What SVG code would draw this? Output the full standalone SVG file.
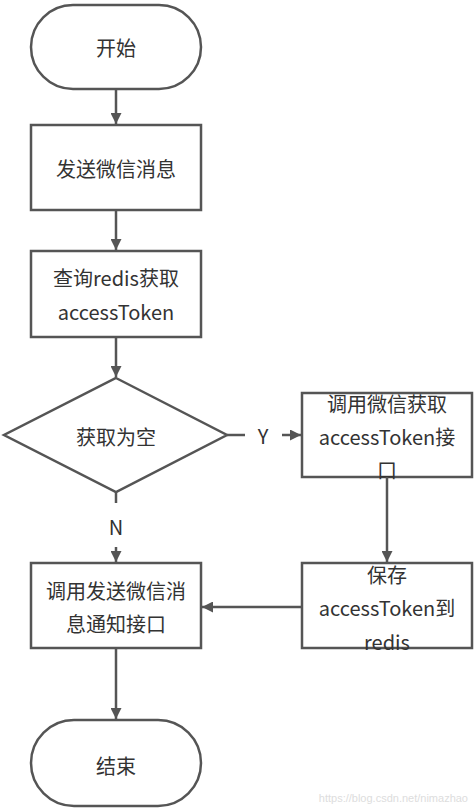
<svg xmlns="http://www.w3.org/2000/svg" width="474" height="811" viewBox="0 0 474 811">
<style>
.s{fill:#fff;stroke:#555;stroke-width:2.5}
.t{font-family:"Noto Sans CJK SC","Noto Sans",sans-serif;font-size:20px;fill:#333;text-anchor:middle;dominant-baseline:central}
.c{fill:none;stroke:#555;stroke-width:2.5}
</style>
<defs>
<marker id="a" viewBox="0 0 10 10" refX="10" refY="5" markerWidth="4.4" markerHeight="4.4" orient="auto" markerUnits="strokeWidth">
<path d="M0,0 L10,5 L0,10 z" fill="#555"/>
</marker>
</defs>
<rect width="474" height="811" fill="#fff"/>
<g id="start"><rect class="s" x="31" y="5" width="170" height="84" rx="42"/><text class="t" x="116" y="47">开始</text></g>
<g id="send"><rect class="s" x="31" y="125" width="170" height="85"/><text class="t" x="116" y="168">发送微信消息</text></g>
<g id="query"><rect class="s" x="31" y="251" width="170" height="86"/><text class="t" x="116" y="277">查询redis获取</text><text class="t" x="116" y="311">accessToken</text></g>
<g id="cond"><polygon class="s" points="116,378 227,435 116,492 4,435"/><text class="t" x="116" y="436">获取为空</text></g>
<g id="fetch"><rect class="s" x="302" y="393" width="170" height="84"/><text class="t" x="387" y="403">调用微信获取</text><text class="t" x="387" y="436">accessToken接</text><text class="t" x="387" y="469">口</text></g>
<g id="save"><rect class="s" x="302" y="563" width="170" height="85"/><text class="t" x="387" y="574">保存</text><text class="t" x="387" y="607">accessToken到</text><text class="t" x="387" y="641">redis</text></g>
<g id="call"><rect class="s" x="31" y="563" width="170" height="85"/><text class="t" x="116" y="590">调用发送微信消</text><text class="t" x="116" y="623">息通知接口</text></g>
<g id="end"><rect class="s" x="31" y="720" width="170" height="86" rx="43"/><text class="t" x="116" y="765">结束</text></g>
<g id="connectors">
<line class="c" x1="116" y1="89" x2="116" y2="124" marker-end="url(#a)"/>
<line class="c" x1="116" y1="210" x2="116" y2="250" marker-end="url(#a)"/>
<line class="c" x1="116" y1="337" x2="116" y2="377" marker-end="url(#a)"/>
<line class="c" x1="227" y1="435" x2="245" y2="435"/>
<text class="t" x="263" y="435">Y</text>
<line class="c" x1="282" y1="435" x2="301" y2="435" marker-end="url(#a)"/>
<line class="c" x1="116" y1="492" x2="116" y2="503"/>
<text class="t" x="116" y="526">N</text>
<line class="c" x1="116" y1="547" x2="116" y2="562" marker-end="url(#a)"/>
<line class="c" x1="387" y1="477" x2="387" y2="562" marker-end="url(#a)"/>
<line class="c" x1="302" y1="607" x2="202" y2="607" marker-end="url(#a)"/>
<line class="c" x1="116" y1="648" x2="116" y2="719" marker-end="url(#a)"/>
</g>
<text x="468" y="802" font-family="Liberation Sans, sans-serif" font-size="11" fill="#ddd" text-anchor="end">https://blog.csdn.net/nimazhao</text>
</svg>
